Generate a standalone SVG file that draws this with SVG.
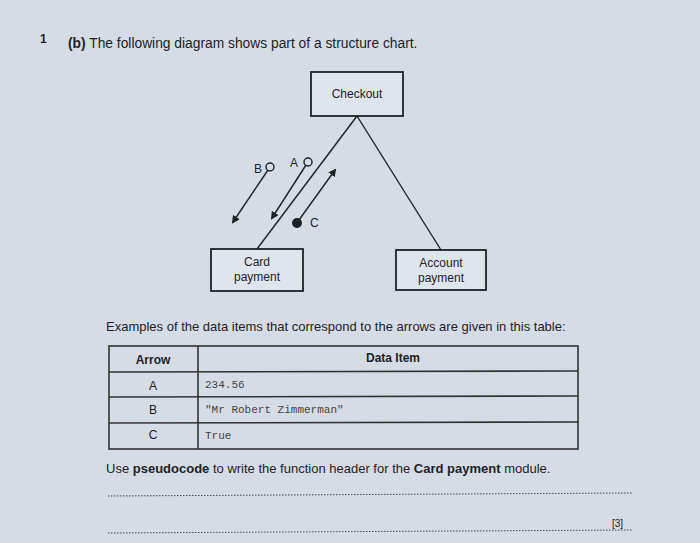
<svg xmlns="http://www.w3.org/2000/svg" width="700" height="543" viewBox="0 0 700 543">
<style>
text{font-family:"Liberation Sans",Arial,sans-serif;fill:#1e2226;font-size:12px}
.box{fill:#dfe5ec;stroke:#1e2226;stroke-width:1.8}
.ln{stroke:#1e2226;stroke-width:1.4;fill:none}
.mono{font-family:"Liberation Mono",monospace;font-size:11px;fill:#444}
.dot{stroke:#444;stroke-width:1;stroke-dasharray:1.5 1.5}
</style>
<defs><marker id="ah" markerWidth="8" markerHeight="8" refX="6" refY="4" orient="auto" markerUnits="userSpaceOnUse"><path d="M0,0 L8,4 L0,8 z" fill="#1e2226"/></marker></defs>
<rect width="700" height="543" fill="#d5dce5"/>
<text x="40" y="43" font-weight="bold">1</text>
<text x="68" y="48" style="font-size:13.8px"><tspan font-weight="bold">(b)</tspan> The following diagram shows part of a structure chart.</text>
<g id="connectors">
<line class="ln" x1="357" y1="116" x2="257" y2="249"/>
<line class="ln" x1="357" y1="116" x2="441" y2="250"/>
<circle cx="270" cy="167" r="4" fill="none" stroke="#1e2226" stroke-width="1.4"/>
<line class="ln" x1="268" y1="170" x2="233" y2="222" marker-end="url(#ah)"/>
<circle cx="308" cy="162" r="4" fill="none" stroke="#1e2226" stroke-width="1.4"/>
<line class="ln" x1="306" y1="165" x2="272" y2="218" marker-end="url(#ah)"/>
<circle cx="297" cy="223" r="5" fill="#1e2226"/>
<line class="ln" x1="299" y1="220" x2="335" y2="170" marker-end="url(#ah)"/>
<text x="254" y="173">B</text><text x="290" y="167">A</text><text x="310" y="227">C</text>
</g>
<g id="checkout"><rect class="box" x="311" y="72" width="92" height="44"/><text x="357" y="98" text-anchor="middle">Checkout</text></g>
<g id="card"><rect class="box" x="211" y="249" width="92" height="42"/><text x="257" y="266" text-anchor="middle">Card</text><text x="257" y="281" text-anchor="middle">payment</text></g>
<g id="account"><rect class="box" x="396" y="250" width="90" height="40"/><text x="441" y="267" text-anchor="middle">Account</text><text x="441" y="282" text-anchor="middle">payment</text></g>
<text x="106" y="331" style="font-size:13px">Examples of the data items that correspond to the arrows are given in this table:</text>
<g id="table" stroke="#333" stroke-width="1.6" fill="none">
<rect x="109" y="346" width="469" height="103"/>
<line x1="109" y1="372" x2="578" y2="371"/><line x1="109" y1="397" x2="578" y2="396"/><line x1="109" y1="423" x2="578" y2="422"/>
<line x1="198" y1="346" x2="198" y2="449"/>
</g>
<text x="153" y="364" text-anchor="middle" font-weight="bold">Arrow</text>
<text x="393" y="362" text-anchor="middle" font-weight="bold">Data Item</text>
<text x="153" y="390" text-anchor="middle">A</text><text x="153" y="414" text-anchor="middle">B</text><text x="153" y="439" text-anchor="middle">C</text>
<text class="mono" x="205" y="388">234.56</text>
<text class="mono" x="205" y="413">"Mr Robert Zimmerman"</text>
<text class="mono" x="205" y="439">True</text>
<text x="106" y="473" style="font-size:13px">Use <tspan font-weight="bold">pseudocode</tspan> to write the function header for the <tspan font-weight="bold">Card payment</tspan> module.</text>
<line class="dot" x1="108" y1="496" x2="632" y2="493"/>
<line class="dot" x1="108" y1="533" x2="632" y2="530"/>
<text x="612" y="527" style="font-size:10px">[3]</text>
</svg>
